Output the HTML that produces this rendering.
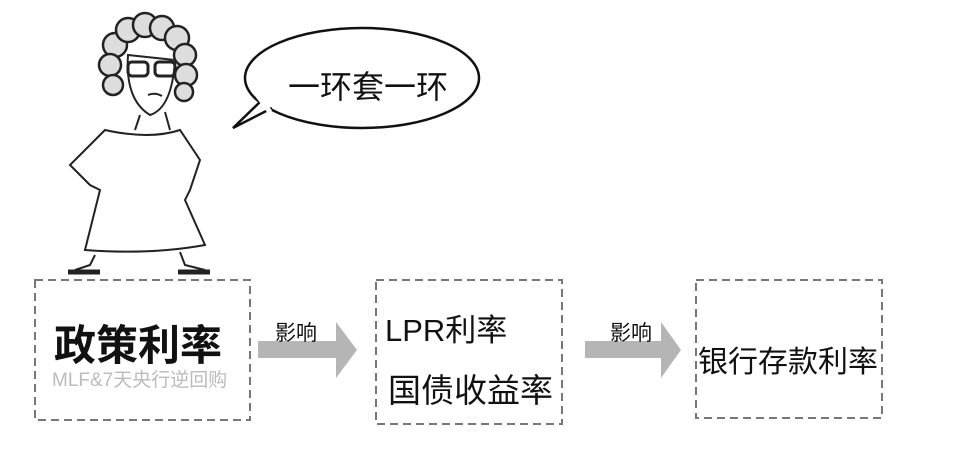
<!DOCTYPE html>
<html><head><meta charset="utf-8"><style>
body{margin:0;background:#fff;width:960px;height:450px;overflow:hidden;position:relative;font-family:"Liberation Sans","Noto Sans CJK SC",sans-serif}
.t{position:absolute;white-space:nowrap;color:#111}
</style></head><body>
<svg width="960" height="450" style="position:absolute;left:0;top:0">
<g fill="none" stroke="#222" stroke-width="2">
<g fill="#ddd" stroke="#222" stroke-width="2.5">
<circle cx="115" cy="45" r="12"/><circle cx="128" cy="30" r="12"/><circle cx="145" cy="25" r="12"/><circle cx="162" cy="28" r="12"/><circle cx="177" cy="38" r="12"/><circle cx="185" cy="55" r="11"/><circle cx="186" cy="75" r="11"/><circle cx="110" cy="65" r="11"/><circle cx="113" cy="85" r="10"/><circle cx="184" cy="92" r="9"/>
</g>
<path d="M128 55 Q125 100 150 115 Q172 108 175 60 Z" fill="#fff"/>
<rect x="128" y="62" width="20" height="14" rx="4" stroke-width="3"/><rect x="155" y="62" width="20" height="14" rx="4" stroke-width="3"/>
<path d="M148 95 Q155 92 162 96"/>
<path d="M140 115 L135 130 M165 112 L170 130"/>
<path d="M105 130 Q150 140 180 130 L200 160 L190 190 L185 200 L205 245 Q150 255 85 250 L100 190 L90 185 L70 165 Z" fill="#fff"/>
<path d="M95 255 L90 265 L75 270 M180 252 L185 265 L205 270"/>
<path d="M68 272 L100 272 M178 272 L210 272" stroke-width="5"/>
</g>
<ellipse cx="362" cy="78" rx="117" ry="50" fill="#fff" stroke="#111" stroke-width="2.5"/>
<path d="M262 100 L233 128 L272 108" fill="#fff" stroke="#111" stroke-width="2.5"/>
<path d="M258 96 L270 112" stroke="#fff" stroke-width="5"/>
<g fill="none" stroke="#777" stroke-width="2" stroke-dasharray="8,5">
<rect x="35" y="280" width="215" height="140"/>
<rect x="376" y="280" width="186" height="144"/>
<rect x="696" y="280" width="186" height="138"/>
</g>
<g fill="#b5b5b5">
<rect x="258" y="341" width="80" height="17"/><polygon points="336,322 357,350 336,378"/>
<rect x="585" y="341" width="78" height="17"/><polygon points="661,322 681,350 661,378"/>
</g>
</svg>
<div class="t" style="left:288px;top:62px;font-size:32px">一环套一环</div>
<div class="t" style="left:54px;top:312px;font-size:42px;font-weight:bold">政策利率</div>
<div class="t" style="left:52px;top:365px;font-size:19px;color:#bbb">MLF&amp;7天央行逆回购</div>
<div class="t" style="left:275px;top:317px;font-size:21px">影响</div>
<div class="t" style="left:610px;top:317px;font-size:21px">影响</div>
<div class="t" style="left:385px;top:305px;font-size:31px">LPR利率</div>
<div class="t" style="left:388px;top:364px;font-size:33px">国债收益率</div>
<div class="t" style="left:698px;top:337px;font-size:30px">银行存款利率</div>
</body></html>
